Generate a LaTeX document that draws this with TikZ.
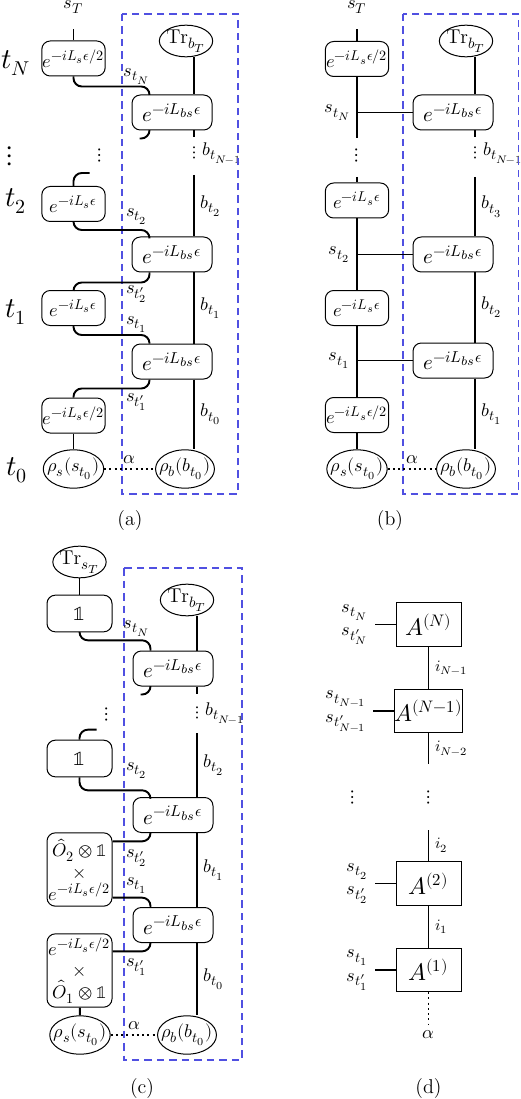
\documentclass[tikz,border=0pt]{standalone}
\usepackage{amsmath}
\usepackage{unicode-math}
\usetikzlibrary{shapes.geometric,calc,positioning}
\definecolor{bathblue}{RGB}{80,80,225}
\DeclareMathSizes{11}{11}{8.5}{6.5}
\DeclareMathSizes{12}{12}{9}{7}
\DeclareMathSizes{12.5}{12.5}{9.5}{7.5}

\tikzset{
  opbox/.style={draw,line width=0.6pt,rounded corners=5pt,inner sep=0pt,
                minimum width=48pt,minimum height=21pt,font=\fontsize{12.5}{14}\selectfont},
  sysbox/.style={opbox,minimum width=38pt,font=\fontsize{11}{13}\selectfont},
  idbox/.style={opbox,minimum width=39pt,minimum height=22pt},
  obsbox/.style={opbox,minimum width=39pt,minimum height=44pt,align=center,
                 font=\fontsize{11}{13}\selectfont},
  trnode/.style={draw,line width=0.6pt,ellipse,inner sep=0pt,inner xsep=-3pt,
                 minimum width=32pt,minimum height=19pt,font=\fontsize{12}{14}\selectfont},
  rhonode/.style={trnode,font=\fontsize{11}{13}\selectfont,
                  minimum width=33pt,minimum height=23pt},
  mpsbox/.style={draw,line width=0.6pt,inner sep=0pt,
                 minimum width=39pt,minimum height=26pt,font=\Large},
  wire/.style={line width=1.15pt,rounded corners=5pt},
  link/.style={line width=1.15pt,dotted},
  bath/.style={bathblue,line width=0.7pt,dash pattern=on 4.5pt off 3pt},
  tlab/.style={font=\LARGE},
  plab/.style={font=\large},
  ilab/.style={right,font=\fontsize{9.5}{11}\selectfont}
}

\begin{document}
\begin{tikzpicture}[x=0.6pt,y=-0.6pt,font=\fontsize{11}{13}\selectfont]
  \useasboundingbox (0,0) rectangle (520,1099);

  % ---------------- (a)
  \coordinate (xa) at (194,0);
  \node (sTa) at (73.5,7) {$s_T$};
  \node[sysbox]  (aN)  at (73.5,58.5)  {$e^{-iL_s\epsilon/2}$};
  \node[sysbox]  (a2)  at (73.5,204)   {$e^{-iL_s\epsilon}$};
  \node[sysbox]  (a1)  at (73.5,308)   {$e^{-iL_s\epsilon}$};
  \node[sysbox]  (a0)  at (73.5,415.5) {$e^{-iL_s\epsilon/2}$};
  \node[rhonode] (rsa) at (73.5,469)   {$\rho_s(s_{t_0})$};
  \node[trnode]  (tra) at (186,41)     {$\mathrm{Tr}_{b_T}$};
  \node[opbox]   (eaN) at (172,112.5)  {$e^{-iL_{bs}\epsilon}$};
  \node[opbox]   (ea2) at (172,254.5)  {$e^{-iL_{bs}\epsilon}$};
  \node[opbox]   (ea1) at (172,361.5)  {$e^{-iL_{bs}\epsilon}$};
  \node[rhonode] (rba) at (185,469)    {$\rho_b(b_{t_0})$};
  \node (vda) at (194,153) {$\vdots$};
  \node[right,inner xsep=0pt] at (vda.east) {$b_{t_{N-1}}$};
  \coordinate (da) at (194,175);

  \draw[bath] (122,14) rectangle (238,494);

  \node[tlab] at (16,63)  {$t_N$};
  \node[tlab] at (10,156) {$\vdots$};
  \node[tlab] at (16,201) {$t_2$};
  \node[tlab] at (16,312) {$t_1$};
  \node[tlab] at (17,470) {$t_0$};
  \node[font=\large] at (100,156) {$\vdots$};

  \draw[wire] ([yshift=-6pt]sTa.south) -- (aN);
  \draw[wire] (aN.south) -- ++(0,10) -| ($(eaN.north west)+(18,0)$);
  \draw[wire] ($(eaN.south west)+(18,0)$) -- ++(0,8) -- ++(-10,0);
  \draw[wire] (a2.north) -- ++(0,-13) -- ++(16,0);
  \draw[wire] (a2.south) -- ++(0,8) -| ($(ea2.north west)+(18,0)$);
  \draw[wire] ($(ea2.south west)+(18,0)$) -- ++(0,10) -| (a1.north);
  \draw[wire] (a1.south) -- ++(0,9) -| ($(ea1.north west)+(18,0)$);
  \draw[wire] ($(ea1.south west)+(18,0)$) -- ++(0,9) -| (a0.north);
  \draw[wire] (a0) -- (rsa);

  \node at (137,76)  {$s_{t_N}$};
  \node at (137,216) {$s_{t_2}$};
  \node at (137,294) {$s_{t'_2}$};
  \node at (137,324) {$s_{t_1}$};
  \node at (137,402) {$s_{t'_1}$};

  \draw[wire] (tra.south -| xa) -- (eaN.north -| xa);
  \draw[wire] (eaN.south -| xa) -- ++(0,7);
  \draw[wire] (da) -- node[right] {$b_{t_2}$} (ea2.north -| xa);
  \draw[wire] (ea2.south -| xa) -- node[right] {$b_{t_1}$} (ea1.north -| xa);
  \draw[wire] (ea1.south -| xa) -- node[right] {$b_{t_0}$} (rba.north -| xa);
  \draw[link] (rsa) -- node[above=-1pt] {$\alpha$} (rba);

  \node[plab] at (130,521) {(a)};

  % ---------------- (b)
  \coordinate (xb) at (475,0);
  \node (sTb) at (357,7) {$s_T$};
  \node[sysbox]  (bN)  at (357,59)    {$e^{-iL_s\epsilon/2}$};
  \node[font=\large] (vdb) at (357,156) {$\vdots$};
  \coordinate (db) at (357,177);
  \node[sysbox]  (b2)  at (357,200.5) {$e^{-iL_s\epsilon}$};
  \node[sysbox]  (b1)  at (357,308)   {$e^{-iL_s\epsilon}$};
  \node[sysbox]  (b0)  at (357,415)   {$e^{-iL_s\epsilon/2}$};
  \node[rhonode] (rsb) at (357,469)   {$\rho_s(s_{t_0})$};
  \node[trnode]  (trb) at (466,41)    {$\mathrm{Tr}_{b_T}$};
  \node[opbox]   (ebN) at (453,112.5) {$e^{-iL_{bs}\epsilon}$};
  \node[opbox]   (eb2) at (453,254.5) {$e^{-iL_{bs}\epsilon}$};
  \node[opbox]   (eb1) at (453,360.5) {$e^{-iL_{bs}\epsilon}$};
  \node[rhonode] (rbb) at (466,469)   {$\rho_b(b_{t_0})$};
  \node (vdbb) at (475,153) {$\vdots$};
  \node[right,inner xsep=0pt] at (vdbb.east) {$b_{t_{N-1}}$};
  \coordinate (dbb) at (475,177);

  \draw[bath] (403,14) rectangle (518.5,494);

  \draw[wire] ([yshift=-6pt]sTb.south) -- (bN);
  \draw[wire] (bN.south) -- ++(0,61);
  \draw[wire] (db) -- (b2);
  \draw[wire] (b2) -- (b1);
  \draw[wire] (b1) -- (b0);
  \draw[wire] (b0) -- (rsb);
  \draw[wire] (ebN.west) -- node[pos=1,left] {$s_{t_N}$} (ebN.west -| bN.south);
  \draw[wire] (eb2.west) -- node[pos=1,left] {$s_{t_2}$} (eb2.west -| bN.south);
  \draw[wire] (eb1.west) -- node[pos=1,left] {$s_{t_1}$} (eb1.west -| bN.south);

  \draw[wire] (trb.south -| xb) -- (ebN.north -| xb);
  \draw[wire] (ebN.south -| xb) -- ++(0,7);
  \draw[wire] (dbb) -- node[right] {$b_{t_3}$} (eb2.north -| xb);
  \draw[wire] (eb2.south -| xb) -- node[right] {$b_{t_2}$} (eb1.north -| xb);
  \draw[wire] (eb1.south -| xb) -- node[right] {$b_{t_1}$} (rbb.north -| xb);
  \draw[link] (rsb) -- node[above=-1pt] {$\alpha$} (rbb);

  \node[plab] at (390,521) {(b)};

  % ---------------- (c)
  \coordinate (xc) at (197,0);
  \node[trnode]  (ctr) at (79.5,562)   {$\mathrm{Tr}_{s_T}$};
  \node[idbox]   (cN)  at (79.5,613.5) {$\mathbb{1}$};
  \node[idbox]   (c2)  at (79.5,758.5) {$\mathbb{1}$};
  \node[obsbox]  (cO2) at (79.5,869.5)
      {$\hat{O}_2\otimes\mathbb{1}$\\$\times$\\$e^{-iL_s\epsilon/2}$};
  \node[obsbox]  (cO1) at (79.5,970.5)
      {$e^{-iL_s\epsilon/2}$\\$\times$\\$\hat{O}_1\otimes\mathbb{1}$};
  \node[rhonode] (rsc) at (80,1035)    {$\rho_s(s_{t_0})$};
  \node[trnode]  (trc) at (187,600)    {$\mathrm{Tr}_{b_T}$};
  \node[opbox]   (ecN) at (173,668.5)  {$e^{-iL_{bs}\epsilon}$};
  \node[opbox]   (ec2) at (173,815)    {$e^{-iL_{bs}\epsilon}$};
  \node[opbox]   (ec1) at (173,925)    {$e^{-iL_{bs}\epsilon}$};
  \node[rhonode] (rbc) at (187,1035)   {$\rho_b(b_{t_0})$};
  \node (vdc) at (197,713) {$\vdots$};
  \node[right,inner xsep=0pt] at (vdc.east) {$b_{t_{N-1}}$};
  \coordinate (dc) at (197,733);
  \node[font=\large] at (107,714) {$\vdots$};

  \draw[bath] (124,568) rectangle (242,1060);

  \draw[wire] (ctr) -- (cN);
  \draw[wire] (cN.south) -- ++(0,8) -| ($(ecN.north west)+(18,0)$);
  \draw[wire] ($(ecN.south west)+(18,0)$) -- ++(0,8) -- ++(-10,0);
  \draw[wire] (c2.north) -- ++(0,-10) -- ++(17,0);
  \draw[wire] (c2.south) -- ++(0,13) -| ($(ec2.north west)+(18,0)$);
  \draw[wire] ($(ec2.south west)+(18,0)$) |- ($(cO2.north east)+(0,9)$);
  \draw[wire] ($(cO2.south east)+(0,-9)$) -| ($(ec1.north west)+(18,0)$);
  \draw[wire] ($(ec1.south west)+(18,0)$) |- ($(cO1.north east)+(0,18)$);
  \draw[wire] (cO1) -- (rsc);

  \node at (137,628) {$s_{t_N}$};
  \node at (137,770) {$s_{t_2}$};
  \node at (137,858) {$s_{t'_2}$};
  \node at (137,885) {$s_{t_1}$};
  \node at (137,967) {$s_{t'_1}$};

  \draw[wire] (trc.south -| xc) -- (ecN.north -| xc);
  \draw[wire] (ecN.south -| xc) -- ++(0,7);
  \draw[wire] (dc) -- node[right] {$b_{t_2}$} (ec2.north -| xc);
  \draw[wire] (ec2.south -| xc) -- node[right] {$b_{t_1}$} (ec1.north -| xc);
  \draw[wire] (ec1.south -| xc) -- node[right] {$b_{t_0}$} (rbc.north -| xc);
  \draw[link] (rsc) -- node[above=-1pt] {$\alpha$} (rbc);

  \node[plab] at (142,1088) {(c)};

  % ---------------- (d)
  \node[mpsbox] (dN) at (428.5,624.5) {$A^{(N)}$};
  \node[mpsbox] (dM) at (428.5,711)   {$A^{(N-1)}$};
  \node[mpsbox] (d2) at (428.5,883.5) {$A^{(2)}$};
  \node[mpsbox] (d1) at (428.5,970)   {$A^{(1)}$};
  \coordinate (dMend) at (428.5,764);
  \coordinate (d2top) at (428.5,830);
  \node (alpd) at (428.5,1035) {$\alpha$};
  \node[font=\large] at (353,797)   {$\vdots$};
  \node[font=\large] at (428.5,797) {$\vdots$};

  \draw[wire] (dN.west) -- ++(-21,0) node[left,align=left] {$s_{t_N}$\\[1pt]$s_{t'_N}$};
  \draw[wire] (dM.west) -- ++(-21,0) node[left,align=left] {$s_{t_{N-1}}$\\[1pt]$s_{t'_{N-1}}$};
  \draw[wire] (d2.west) -- ++(-21,0) node[left,align=left] {$s_{t_2}$\\[1pt]$s_{t'_2}$};
  \draw[wire] (d1.west) -- ++(-21,0) node[left,align=left] {$s_{t_1}$\\[1pt]$s_{t'_1}$};
  \draw[wire] (dN) -- node[ilab] {$i_{N-1}$} (dM);
  \draw[wire] (dM) -- node[ilab] {$i_{N-2}$} (dMend);
  \draw[wire] (d2top) -- node[ilab] {$i_2$} (d2);
  \draw[wire] (d2) -- node[ilab] {$i_1$} (d1);
  \draw[link] (d1) -- (alpd);

  \node[plab] at (428.5,1088) {(d)};
\end{tikzpicture}
\end{document}
